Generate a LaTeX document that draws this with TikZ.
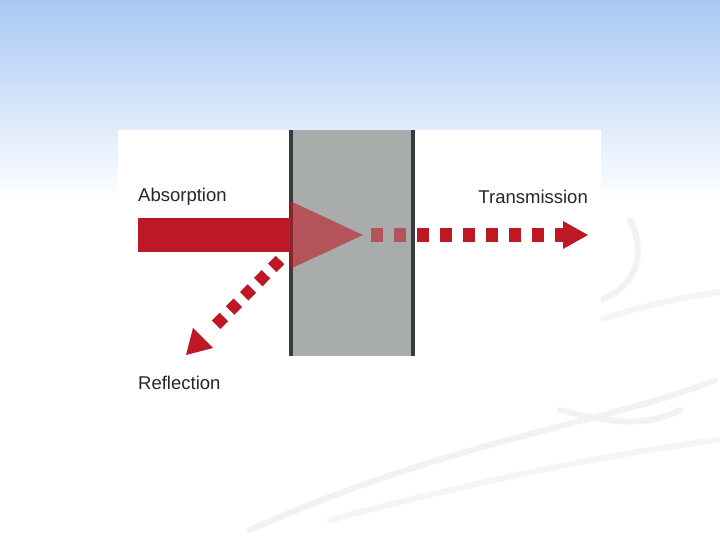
\documentclass[tikz,border=0pt]{standalone}
\usepackage{fontspec}
\setmainfont{Liberation Sans}
\usetikzlibrary{arrows.meta}
\definecolor{beamred}{HTML}{BE1825}
\definecolor{slabgray}{HTML}{A8ACAA}
\definecolor{slabedge}{HTML}{3A3A3C}
\definecolor{skyblue}{HTML}{A8C8F4}
\tikzset{
  label text/.style={font=\fontsize{18.5}{22}\selectfont, text=black!85, inner sep=0pt},
  dash beam/.style={beamred, line width=14pt, dash pattern=on 12pt off 11pt},
  swoosh/.style={black!5, line width=6pt, line cap=round}
}
\begin{document}
\begin{tikzpicture}[x=1pt,y=-1pt]
  \useasboundingbox (0,0) rectangle (720,540);
  % background
  \shade[top color=skyblue, bottom color=white] (0,0) rectangle (720,200);
  \draw[swoosh] (250,530) .. controls (450,440) and (620,420) .. (715,380);
  \draw[swoosh, black!4] (330,520) .. controls (520,470) and (640,450) .. (718,440);
  \draw[swoosh, black!4] (600,320) .. controls (660,300) and (700,295) .. (718,292);
  \draw[swoosh] (630,220) .. controls (650,260) and (630,290) .. (600,300);
  \draw[swoosh] (560,410) .. controls (600,420) and (640,430) .. (680,410);
  % white panel
  \fill[white] (118,130) rectangle (601,400);

  % slab
  \filldraw[fill=slabgray, draw=none] (289,130) rectangle (415,356);
  \draw[slabedge, line width=4pt] (291,130) -- (291,356);
  \draw[slabedge, line width=4pt] (413,130) -- (413,356);

  % incoming beam
  \coordinate (src) at (138,235);
  \coordinate (hit) at (290,235);
  \coordinate (tip) at (363,235);
  \draw[beamred, line width=34pt] (src) -- (hit);
  \fill[beamred, opacity=.6] (290,201) -- (tip) -- (290,269) -- cycle;

  % transmitted beam
  \coordinate (tstart) at (371,235);
  \coordinate (tend) at (566,235);
  \coordinate (ttip) at (588,235);
  \draw[dash beam, opacity=.6] (tstart) -- (414,235);
  \draw[dash beam] (417,235) -- (tend);
  \fill[beamred] (563,221) -- (ttip) -- (563,249) -- cycle;

  % reflected beam
  \coordinate (rstart) at (280,260);
  \coordinate (rend) at (210,331);
  \coordinate (rtip) at (186,355);
  \draw[dash beam, line width=12pt, dash pattern=on 11pt off 9pt] (rstart) -- (rend);
  \fill[beamred] (rtip) -- (193,328) -- (213,348) -- cycle;

  % labels
  \node[label text, anchor=west] (abs) at (138,197) {Absorption};
  \node[label text, anchor=east] (trans) at (588,197) {Transmission};
  \node[label text, anchor=west] (refl) at (138,383) {Reflection};
\end{tikzpicture}
\end{document}
